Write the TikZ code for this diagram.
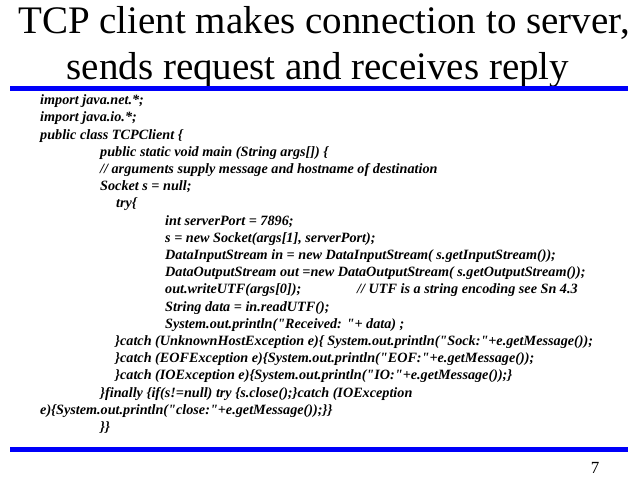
\documentclass[tikz,border=0pt]{standalone}
\usepackage{fontspec}
\setmainfont{Liberation Serif}
\newfontfamily\codefont{Liberation Serif}[Ligatures=TeXOff]
\definecolor{rulecolor}{RGB}{0,0,250}
\tikzset{
  titleline/.style={anchor=base, inner sep=0pt, font=\fontsize{39}{41}\selectfont},
  codeline/.style={anchor=base west, inner sep=0pt, font=\codefont\bfseries\itshape\fontsize{14.2}{15}\selectfont},
  bluerule/.style={rulecolor, line width=4.5pt}
}
\begin{document}
\begin{tikzpicture}[x=1pt, y=-1pt]
            \useasboundingbox (0,0) rectangle (638,478);
            % Title
            \node[titleline] (title1) at (324,34) {TCP client makes connection to server,};
            \node[titleline] (title2) at (318,80) {sends request and receives reply};
            % Rules
            \coordinate (topL) at (10,88.5);
            \coordinate (topR) at (628,88.5);
            \coordinate (botL) at (10,449.5);
            \coordinate (botR) at (628,449.5);
            \draw[bluerule] (topL) -- (topR);
            \draw[bluerule] (botL) -- (botR);
            % Code
            \node[codeline] (c1)  at (40,104.7)  {import java.net.*;};
            \node[codeline] (c2)  at (40,121.9)  {import java.io.*;};
            \node[codeline] (c3)  at (40,139.1)  {public class TCPClient \{};
            \node[codeline] (c4)  at (100,156.3) {public static void main (String args[]) \{};
            \node[codeline] (c5)  at (100,173.5) {// arguments supply message and hostname of destination};
            \node[codeline] (c6)  at (100,190.7) {Socket s = null;};
            \node[codeline] (c7)  at (116,207.9) {try\{};
            \node[codeline] (c8)  at (165,225.1) {int serverPort = 7896;};
            \node[codeline] (c9)  at (165,242.3) {s = new Socket(args[1], serverPort);};
            \node[codeline] (c10) at (165,259.5) {DataInputStream in = new DataInputStream( s.getInputStream());};
            \node[codeline] (c11) at (165,276.7) {DataOutputStream out =new DataOutputStream( s.getOutputStream());};
            \node[codeline] (c12) at (165,293.9) {out.writeUTF(args[0]);};
            \node[codeline] (c12b) at (357,293.9) {// UTF is a string encoding see Sn 4.3};
            \node[codeline] (c13) at (165,311.1) {String data = in.readUTF();};
            \node[codeline] (c14) at (165,328.3) {System.out.println("Received: "+ data) ;};
            \node[codeline] (c15) at (115,345.5) {\}catch (UnknownHostException e)\{ System.out.println("Sock:"+e.getMessage());};
            \node[codeline] (c16) at (115,362.7) {\}catch (EOFException e)\{System.out.println("EOF:"+e.getMessage());};
            \node[codeline] (c17) at (115,379.9) {\}catch (IOException e)\{System.out.println("IO:"+e.getMessage());\}};
            \node[codeline] (c18) at (100,397.1) {\}finally \{if(s!=null) try \{s.close();\}catch (IOException};
            \node[codeline] (c19) at (40,414.3)  {e)\{System.out.println("close:"+e.getMessage());\}\}};
            \node[codeline] (c20) at (100,431.5) {\}\}};
            % Page number
            \node[anchor=base, inner sep=0pt, font=\fontsize{17}{18}\selectfont] (page) at (595,474) {7};
\end{tikzpicture}
\end{document}
